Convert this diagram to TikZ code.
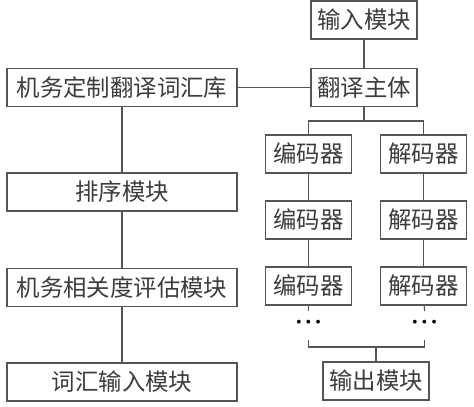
\documentclass[tikz,border=0pt]{standalone}
\usepackage{fontspec}
\newfontfamily\cjk{Noto Sans CJK SC}
\usepackage{tikz}
\usetikzlibrary{shapes}
\usetikzlibrary{arrows}
\usetikzlibrary{calc}
\definecolor{trait}{RGB}{85,85,85}
\definecolor{texte}{RGB}{60,60,60}
\tikzstyle{module}=[rectangle,draw=trait,line width=1.2bp,inner sep=0pt,
text=texte,font=\cjk\fontsize{23.5}{26}\selectfont,minimum height=38bp]
\tikzstyle{large}=[module,minimum width=230bp]
\tikzstyle{petit}=[module,minimum width=106bp]
\tikzstyle{codeur}=[module,minimum width=86bp]
\tikzstyle{points}=[text=black,inner sep=0pt,font=\fontsize{14}{16}\selectfont]
\tikzstyle{lien}=[draw=trait,line width=1.2bp]

\begin{document}
\begin{tikzpicture}[x=1bp,y=-1bp]
\useasboundingbox (0,0) rectangle (474,406);
\node[petit] (entree) at (364,20) {输入模块};
\node[petit] (corps) at (364,87.5) {翻译主体};
\node[large] (lexique) at (122,87.5) {机务定制翻译词汇库};
\node[large] (tri) at (122,192) {排序模块};
\node[large] (eval) at (122,287.5) {机务相关度评估模块};
\node[large] (saisie) at (122,382) {词汇输入模块};
\node[codeur] (enc1) at (308.5,154) {编码器};
\node[codeur] (enc2) at (308.5,220) {编码器};
\node[codeur] (enc3) at (308.5,286) {编码器};
\node[codeur] (dec1) at (423.5,154) {解码器};
\node[codeur] (dec2) at (423.5,220) {解码器};
\node[codeur] (dec3) at (423.5,286) {解码器};
\node[points] (ptA) at (308.5,323) {\textbullet\hspace{-1pt}\textbullet\hspace{-1pt}\textbullet};
\node[points] (ptB) at (424.5,323) {\textbullet\hspace{-1pt}\textbullet\hspace{-1pt}\textbullet};
\node[petit] (sortie) at (376,381) {输出模块};
\coordinate (fourche) at (364,121);
\coordinate (finA) at (308.5,311);
\coordinate (finB) at (424.5,311);
\coordinate (crochetA) at (308.5,340);
\coordinate (crochetB) at (424.5,340);
\coordinate (jonction) at (376,347);
%Placementdesliens
\draw[lien] (entree) -- (corps);
\draw[lien] (lexique) -- (corps);
\draw[lien] (lexique) -- (tri);
\draw[lien] (tri) -- (eval);
\draw[lien] (eval) -- (saisie);
\draw[lien] (corps) -- (fourche);
\draw[lien] (fourche) -| (enc1);
\draw[lien] (fourche) -| (dec1);
\draw[lien] (enc1) -- (enc2);
\draw[lien] (enc2) -- (enc3);
\draw[lien] (dec1) -- (dec2);
\draw[lien] (dec2) -- (dec3);
\draw[lien] (enc3) -- (finA);
\draw[lien] (dec3) -- (finB);
\draw[lien] (crochetA) |- (jonction) -| (crochetB);
\draw[lien] (jonction) -- (sortie);
\end{tikzpicture}
\end{document}
